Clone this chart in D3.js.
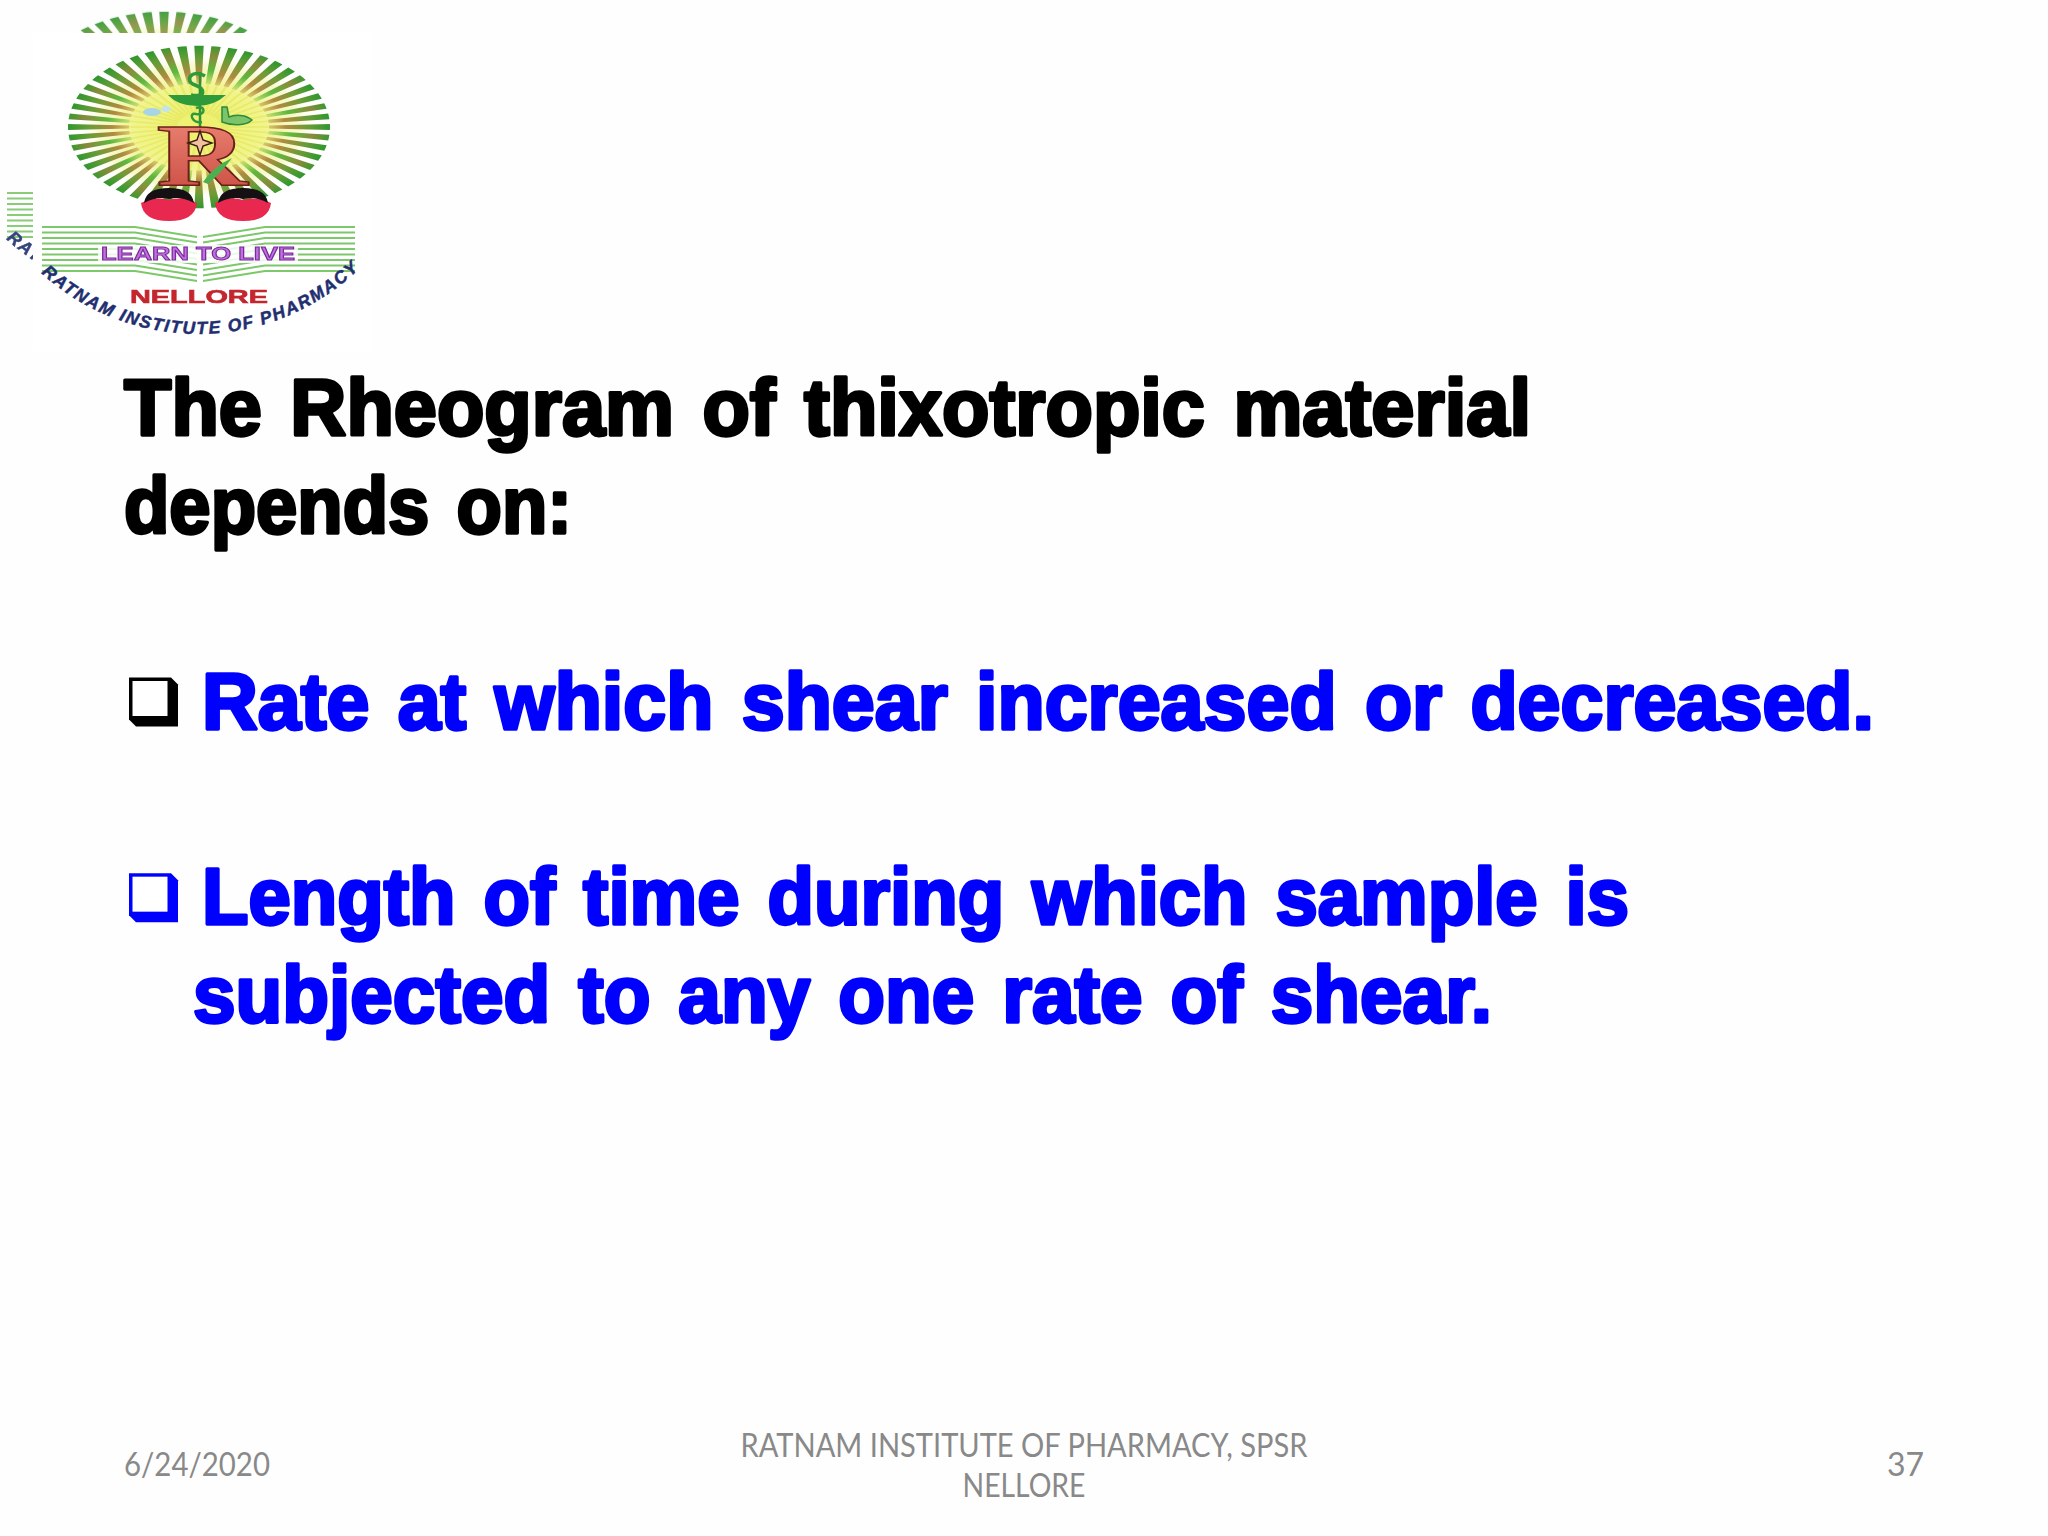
<!DOCTYPE html>
<html>
<head>
<meta charset="utf-8">
<script src="https://cdn.jsdelivr.net/npm/d3@7"></script>
<style>
  body { margin: 0; background: #fff; }
  svg { display: block; }
</style>
</head>
<body>
<div id="slide"></div>
<script>
// slide text
var titleLines = ["The Rheogram of thixotropic material", "depends on:"];
var bulletFirst = ["Rate at which shear increased or decreased."];
var bulletSecond = ["Length of time during which sample is", "subjected to any one rate of shear."];
var footerDate = "6/24/2020";
var footerCenter = ["RATNAM INSTITUTE OF PHARMACY, SPSR", "NELLORE"];
var slideNumber = "37";

// logo text
var logoMotto = "LEARN TO LIVE";
var logoCity = "NELLORE";
var logoRing = "RATNAM INSTITUTE OF PHARMACY";
var logoRingPeek = "RAT";
var logoLetter = "R";

//svg size
var svgWidth = 2048;
var svgHeight = 1536;

// text rows sit on a fixed line grid (slot -> baseline)
var lineY = d3.scaleLinear().domain([0, 6]).range([435, 1022]);
var titleWidths = [1407, 448];
var firstWidths = [1672];
var secondWidths = [1427, 1299];

var svg = d3.select("#slide")
    .append("svg")
    .attr("width", svgWidth)
    .attr("height", svgHeight);

svg.append("rect")
    .attr("width", svgWidth)
    .attr("height", svgHeight)
    .attr("fill", "#fefefe");

var defs = svg.append("defs");

function gradient(id, type, stops, attrs) {
    var gr = defs.append(type).attr("id", id);
    Object.keys(attrs).forEach(function(k) { gr.attr(k, attrs[k]); });
    stops.forEach(function(s) {
        gr.append("stop").attr("offset", s[0]).attr("stop-color", s[1])
            .attr("stop-opacity", s[2] === undefined ? 1 : s[2]);
    });
}
gradient("rayA", "radialGradient",
    [[0.5, "#e2d874"], [0.66, "#b08a40"], [0.84, "#6a9c36"], [1, "#2f972f"]],
    {gradientUnits: "userSpaceOnUse", cx: 0, cy: 0, r: 131});
gradient("rayB", "radialGradient",
    [[0.5, "#dfe878"], [0.7, "#5db83e"], [0.88, "#8a8a3a"], [1, "#3b9a30"]],
    {gradientUnits: "userSpaceOnUse", cx: 0, cy: 0, r: 131});
gradient("glow", "radialGradient",
    [[0, "#eef06a"], [0.55, "#f1f48c"], [0.85, "#f6f8c4", 0.8], [1, "#ffffff", 0]],
    {cx: 0.5, cy: 0.5, r: 0.5});
gradient("rfill", "linearGradient",
    [[0, "#ee8a78"], [1, "#c8473e"]],
    {x1: 0, y1: 0, x2: 0, y2: 1});

//logo, drawn twice (faded copy peeks out behind, only its edges show)
function drawLogo(g, key, full) {
    var sun = g.append("g").attr("transform", "translate(199,127) scale(1,0.62)");
    sun.append("circle").attr("r", 118).attr("fill", "url(#glow)");
    var rays = d3.range(48).map(function(i) { return i * 2 * Math.PI / 48; });
    sun.selectAll("line.inner").data(rays).join("line")
        .attr("x1", function(a) { return 22 * Math.sin(a); })
        .attr("y1", function(a) { return -22 * Math.cos(a); })
        .attr("x2", function(a) { return 70 * Math.sin(a); })
        .attr("y2", function(a) { return -70 * Math.cos(a); })
        .attr("stroke", "#e4e85c")
        .attr("stroke-width", 2.5)
        .attr("opacity", 0.7);
    var rayArc = d3.arc().innerRadius(70).outerRadius(131);
    sun.selectAll("path.ray").data(rays).join("path")
        .attr("d", function(a) { return rayArc({startAngle: a - 0.036, endAngle: a + 0.036}); })
        .attr("fill", function(a, i) { return i % 3 === 1 ? "url(#rayB)" : "url(#rayA)"; });

    // open book
    var pages = d3.range(9);
    g.selectAll("path.leftPage").data(pages).join("path")
        .attr("d", function(i) { var y = 227 + i * 5.5; return "M42," + y + " L135," + y + " L197," + (y + 10); })
        .attr("fill", "none").attr("stroke", "#7cc86a").attr("stroke-width", 2);
    g.selectAll("path.rightPage").data(pages).join("path")
        .attr("d", function(i) { var y = 227 + i * 5.5; return "M355," + y + " L265," + y + " L203," + (y + 10); })
        .attr("fill", "none").attr("stroke", "#7cc86a").attr("stroke-width", 2);

    // name around the bottom
    g.append("path")
        .attr("id", "ring-" + key)
        .attr("d", "M34,266 A232,232 0 0 0 362,266")
        .attr("fill", "none");
    g.append("text")
        .attr("font-family", "'Liberation Sans', Arial, sans-serif")
        .attr("font-weight", "bold").attr("font-style", "italic")
        .attr("font-size", 17.5).attr("letter-spacing", 1.65)
        .attr("fill", "#1f2f70").attr("stroke", "#1f2f70").attr("stroke-width", 0.5)
        .append("textPath")
        .attr("href", "#ring-" + key)
        .attr("startOffset", 10)
        .text(full ? logoRing : logoRingPeek);

    if (!full) return;

    // caduceus
    g.append("line").attr("x1", 200).attr("y1", 72).attr("x2", 200).attr("y2", 128)
        .attr("stroke", "#2f8f3a").attr("stroke-width", 2.5);
    g.append("path")
        .attr("d", "M205,76 C192,68 183,81 195,85 C207,89 205,98 191,95")
        .attr("fill", "none").attr("stroke", "#2f9a3a").attr("stroke-width", 3.5);
    g.append("path")
        .attr("d", "M168,95 L226,95 Q214,106 197,106 Q178,106 168,95 Z")
        .attr("fill", "#2f9a3a");
    g.append("path")
        .attr("d", "M196,108 C206,104 206,116 196,114 C188,112 192,124 202,122")
        .attr("fill", "none").attr("stroke", "#2f9a3a").attr("stroke-width", 2.5);
    g.append("path")
        .attr("d", "M222,107 L227,107 L229,117 C236,114 246,115 252,120 C246,126 232,126 222,122 Z")
        .attr("fill", "#7cc46a").attr("stroke", "#2f8a3a").attr("stroke-width", 1.5);
    g.append("ellipse").attr("cx", 152).attr("cy", 112).attr("rx", 9).attr("ry", 4)
        .attr("fill", "#a8d4e4");
    g.append("ellipse").attr("cx", 166).attr("cy", 109).attr("rx", 5).attr("ry", 3)
        .attr("fill", "#c4e4ec");

    // R with the cross and leaf
    g.append("text")
        .attr("x", 202).attr("y", 185)
        .attr("text-anchor", "middle")
        .attr("textLength", 91).attr("lengthAdjust", "spacingAndGlyphs")
        .attr("font-family", "'Liberation Serif', 'DejaVu Serif', serif")
        .attr("font-weight", "bold").attr("font-size", 88)
        .attr("fill", "url(#rfill)").attr("stroke", "#6a2018").attr("stroke-width", 1.4)
        .text(logoLetter);
    g.append("path")
        .attr("d", "M200,131 L203,140 L212,143 L203,146 L200,155 L197,146 L188,143 L197,140 Z")
        .attr("fill", "#f2c0a0").attr("stroke", "#3a1a10").attr("stroke-width", 1.4);
    g.append("path")
        .attr("d", "M203,182 Q214,166 232,158 Q222,172 208,184 Z")
        .attr("fill", "#4caf50");

    // the two pink shapes
    [169, 243].forEach(function(cx) {
        g.append("path")
            .attr("d", "M" + (cx - 28) + ",203 Q" + (cx - 14) + ",196 " + cx + ",200 Q" + (cx + 14) + ",196 " + (cx + 28) + ",203 Q" + (cx + 26) + ",221 " + cx + ",221 Q" + (cx - 26) + ",221 " + (cx - 28) + ",203 Z")
            .attr("fill", "#e8284f");
        g.append("path")
            .attr("d", "M" + (cx - 25) + ",203 Q" + (cx - 23) + ",188 " + cx + ",188 Q" + (cx + 23) + ",188 " + (cx + 25) + ",203 Q" + (cx + 12) + ",196 " + cx + ",199 Q" + (cx - 12) + ",196 " + (cx - 25) + ",203 Z")
            .attr("fill", "#141014");
    });

    // motto on a white band across the book
    g.append("rect").attr("x", 98).attr("y", 245).attr("width", 200).attr("height", 18)
        .attr("fill", "#fff").attr("opacity", 0.85);
    g.append("text")
        .attr("x", 198).attr("y", 260)
        .attr("text-anchor", "middle")
        .attr("textLength", 194).attr("lengthAdjust", "spacingAndGlyphs")
        .attr("font-family", "'Liberation Sans', Arial, sans-serif")
        .attr("font-weight", "bold").attr("font-size", 18)
        .attr("fill", "#c070e0").attr("stroke", "#7a2a9a").attr("stroke-width", 0.9)
        .text(logoMotto);
    g.append("text")
        .attr("x", 199).attr("y", 303)
        .attr("text-anchor", "middle")
        .attr("textLength", 138).attr("lengthAdjust", "spacingAndGlyphs")
        .attr("font-family", "'Liberation Sans', Arial, sans-serif")
        .attr("font-weight", "bold").attr("font-size", 18)
        .attr("fill", "#c4262e").attr("stroke", "#c4262e").attr("stroke-width", 0.6)
        .text(logoCity);
}

drawLogo(svg.append("g").attr("transform", "translate(-35,-34)").attr("opacity", 0.9), "back", false);
svg.append("rect").attr("x", 33).attr("y", 33).attr("width", 340).attr("height", 318).attr("fill", "#fff");
drawLogo(svg.append("g"), "front", true);

//body text
function addLine(text, x, slot, len, color) {
    svg.append("text")
        .attr("x", x)
        .attr("y", lineY(slot))
        .attr("textLength", len)
        .attr("lengthAdjust", "spacingAndGlyphs")
        .attr("font-family", "'Liberation Sans', Arial, sans-serif")
        .attr("font-weight", "bold")
        .attr("font-size", 79.6)
        .attr("word-spacing", 7)
        .attr("fill", color)
        .attr("stroke", color)
        .attr("stroke-width", 3.4)
        .attr("stroke-linejoin", "round")
        .text(text);
}

// wingdings style shadowed box
function addBox(x, slot, color) {
    var top = lineY(slot) - 51;
    var box = svg.append("g").attr("transform", "translate(" + x + "," + top + ")");
    box.append("path")
        .attr("d", "M0,0 L42,0 L49,7 L49,49 L7,49 L0,42 Z")
        .attr("fill", color);
    box.append("rect")
        .attr("x", 3.5).attr("y", 3.5)
        .attr("width", 35).attr("height", 35)
        .attr("fill", "#fff");
}

titleLines.forEach(function(t, i) { addLine(t, 124, i, titleWidths[i], "#000"); });

addBox(129, 3, "#000");
bulletFirst.forEach(function(t, i) { addLine(t, 202, 3 + i, firstWidths[i], "#0000ff"); });

addBox(129, 5, "#0000ff");
bulletSecond.forEach(function(t, i) { addLine(t, i === 0 ? 202 : 193, 5 + i, secondWidths[i], "#0000ff"); });

//footer
var footerFont = "Lato, 'Open Sans', sans-serif";
svg.append("text")
    .attr("x", 124).attr("y", 1476)
    .attr("textLength", 146).attr("lengthAdjust", "spacingAndGlyphs")
    .attr("font-family", footerFont).attr("font-size", 32)
    .attr("fill", "#898989")
    .text(footerDate);
var footerWidths = [567, 123];
footerCenter.forEach(function(t, i) {
    svg.append("text")
        .attr("x", 1024).attr("y", 1457 + i * 40)
        .attr("text-anchor", "middle")
        .attr("textLength", footerWidths[i]).attr("lengthAdjust", "spacingAndGlyphs")
        .attr("font-family", footerFont).attr("font-size", 32)
        .attr("fill", "#898989")
        .text(t);
});
svg.append("text")
    .attr("x", 1924).attr("y", 1476)
    .attr("text-anchor", "end")
    .attr("font-family", footerFont).attr("font-size", 32)
    .attr("fill", "#898989")
    .text(slideNumber);
</script>
</body>
</html>
